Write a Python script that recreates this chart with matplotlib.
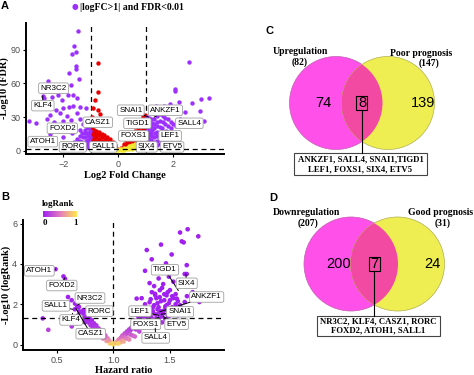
import matplotlib
matplotlib.use('Agg')
import matplotlib.pyplot as plt
from matplotlib.colors import LinearSegmentedColormap
from matplotlib.patches import Circle, Rectangle

# ---------------- data: panel A (volcano) ----------------
purple_x = [-1.48, -1.61, -1.54, -1.69, -1.56, -1.54, -1.78, -1.43, -2.57, -2.08, -1.93, -1.73,
            -2.64, -2.18, -1.82, -1.64, -2.75, -2.69, -2.42, -2.06, -1.50, -2.27, -2.00, -1.79,
            -1.64, -1.40, -1.19, -2.48, -2.14, -1.88, -1.52, -3.24, -3.01, -2.60, -2.33, -2.00,
            -1.73, -1.40, -1.27, -2.18, -1.88, -1.61, -2.48, -2.00, -1.70, -1.40, -1.16,
            -1.05, -1.04, -1.06, -1.05, -1.07, -1.04, -1.06, -1.12, -1.13, -1.11, -1.12, -1.14, -1.12,
            -1.20, -1.21, -1.19, -1.22, -1.20, -1.21, -1.30, -1.31, -1.29, -1.32, -1.40, -1.41, -1.39,
            -1.50, -1.52, -1.08, -1.09, -1.25, -1.35, -1.45, -1.60, -1.15,
            2.58, 2.04, 2.06, 3.01, 3.28, 2.67, 2.20, 1.88, 1.66, 1.36, 2.97, 2.43, 2.00, 3.12, 2.86, 2.37,
            1.03, 1.04, 1.03, 1.05, 1.03, 1.04, 1.03, 1.05, 1.04, 1.03,
            1.10, 1.11, 1.10, 1.12, 1.10, 1.11, 1.10, 1.12, 1.11, 1.10,
            1.20, 1.21, 1.19, 1.22, 1.20, 1.21, 1.19, 1.22, 1.20,
            1.30, 1.31, 1.29, 1.32, 1.30, 1.31, 1.29,
            1.40, 1.41, 1.39, 1.42, 1.40, 1.41, 1.39,
            1.50, 1.52, 1.49, 1.51, 1.50, 1.53,
            1.60, 1.62, 1.59, 1.61, 1.63,
            1.70, 1.72, 1.69, 1.71, 1.80, 1.82, 1.79, 1.90, 1.92, 2.00, 2.10, 2.25]
purple_y = [106.2, 93.7, 88.4, 86.1, 75.9, 73.0, 69.7, 63.8, 62.0, 57.9, 58.5, 58.5,
            54.3, 49.9, 49.9, 49.9, 49.0, 47.2, 48.3, 45.7, 47.1, 36.5, 38.0, 39.4,
            40.0, 39.4, 38.5, 32.0, 33.5, 31.4, 33.5, 27.0, 25.2, 28.8, 25.3, 26.5,
            27.3, 28.8, 24.3, 19.7, 21.2, 22.6, 14.7, 12.6, 15.8, 19.0, 21.2,
            3.0, 6.0, 9.0, 12.0, 15.0, 18.0, 22.0, 4.0, 7.0, 10.0, 13.0, 16.0, 20.0,
            3.0, 6.0, 9.0, 12.0, 16.0, 19.0, 4.0, 8.0, 12.0, 16.0, 5.0, 9.0, 13.0,
            6.0, 11.0, 25.0, 27.0, 2.5, 2.5, 3.0, 8.0, 24.0,
            79.5, 54.9, 53.0, 46.0, 47.4, 42.8, 43.3, 41.8, 39.7, 40.3, 35.3, 34.7, 36.2, 26.4, 27.2, 25.9,
            3.0, 6.0, 9.0, 12.0, 15.0, 18.0, 21.0, 24.0, 27.0, 30.0,
            3.0, 5.0, 8.0, 11.0, 14.0, 17.0, 20.0, 23.0, 26.0, 29.0,
            4.0, 7.0, 10.0, 13.0, 16.0, 19.0, 22.0, 25.0, 28.0,
            4.0, 8.0, 12.0, 16.0, 20.0, 24.0, 28.0,
            5.0, 9.0, 13.0, 17.0, 22.0, 26.0, 31.0,
            6.0, 11.0, 16.0, 21.0, 27.0, 33.0,
            8.0, 14.0, 20.0, 26.0, 31.0,
            10.0, 18.0, 24.0, 29.0, 15.0, 22.0, 28.0, 20.0, 26.0, 24.0, 22.0, 28.0]

red_x = [-0.76, -0.76, -0.85, -0.91, -0.75, -0.68, -0.95, -0.82,
         -0.98, -0.97, -0.98, -0.99, -0.97, -0.98, -0.97,
         -0.90, -0.91, -0.89, -0.90, -0.91, -0.89, -0.90,
         -0.80, -0.81, -0.79, -0.80, -0.81, -0.80,
         -0.70, -0.71, -0.69, -0.70, -0.71, -0.70,
         -0.60, -0.61, -0.59, -0.60, -0.61,
         -0.50, -0.51, -0.49, -0.50, -0.51,
         -0.40, -0.41, -0.39, -0.40,
         -0.30, -0.31, -0.29, -0.30,
         -0.20, -0.21, -0.19, -0.10, -0.11,
         0.10, 0.20, 0.21, 0.30, 0.31, 0.29, 0.40, 0.41, 0.39,
         0.50, 0.51, 0.49, 0.50, 0.60, 0.61, 0.59, 0.60, 0.61,
         0.70, 0.71, 0.69, 0.70, 0.71, 0.70,
         0.80, 0.81, 0.79, 0.80, 0.81, 0.80,
         0.90, 0.91, 0.89, 0.90, 0.91, 0.89, 0.90, 0.91,
         0.97, 0.96, 0.97, 0.98, 0.96, 0.97, 0.98, 0.97]
red_y = [78.0, 52.8, 45.0, 38.0, 36.5, 33.0, 30.0, 28.0,
         3.0, 6.0, 9.0, 12.0, 15.0, 18.0, 20.5,
         3.0, 5.0, 8.0, 11.0, 14.0, 17.0, 19.0,
         3.0, 6.0, 9.0, 12.0, 15.0, 18.0,
         3.0, 5.0, 8.0, 11.0, 14.0, 16.5,
         3.0, 6.0, 9.0, 12.0, 15.0,
         3.0, 5.0, 8.0, 11.0, 14.0,
         3.0, 6.0, 9.0, 12.0,
         3.0, 5.0, 8.0, 11.0,
         3.0, 5.0, 8.0, 3.0, 5.0,
         3.0, 4.0, 6.0, 6.0, 8.5, 10.0, 8.0, 10.0, 12.0,
         8.0, 11.0, 13.0, 15.0, 9.0, 12.0, 14.0, 16.0, 18.0,
         9.0, 11.0, 13.0, 15.0, 17.0, 20.0,
         10.0, 13.0, 15.0, 18.0, 21.0, 24.0,
         4.0, 7.0, 11.0, 15.0, 19.0, 23.0, 27.0, 31.0,
         4.0, 8.0, 12.0, 16.0, 20.0, 24.0, 28.0, 32.0]

yellow_x = [-0.10, -0.05, 0.00, 0.05, 0.10, 0.10, 0.15, 0.20, 0.20, 0.30, 0.30, 0.40, 0.40, 0.40,
            0.50, 0.50, 0.50, 0.60, 0.60, 0.60, 0.70, 0.70, 0.70, 0.80, 0.80]
yellow_y = [0.5, 0.8, 1.0, 1.5, 1.0, 2.0, 0.5, 1.0, 2.5, 1.5, 3.0, 1.5, 3.0, 4.5,
            2.0, 4.0, 5.5, 2.5, 4.5, 6.5, 3.0, 5.0, 7.0, 4.0, 6.5]

genes_a = ['NR3C2', 'KLF4', 'CASZ1', 'FOXD2', 'ATOH1', 'RORC', 'SALL1',
           'SNAI1', 'ANKZF1', 'TIGD1', 'SALL4', 'FOXS1', 'LEF1', 'SIX4', 'ETV5']
gene_a_fc = [-2.64, -2.75, -1.05, -2.18, -2.48, -1.20, -1.05, 1.10, 1.30, 1.10, 2.10, 1.10, 1.60, 1.20, 1.50]
gene_a_fdr = [54.3, 49.0, 22.0, 19.7, 12.0, 6.0, 3.0, 30.0, 30.0, 22.0, 26.0, 12.0, 17.0, 5.0, 6.0]

# ---------------- data: panel B (hazard ratio) ----------------
hr_x = [0.49, 0.56, 0.574, 0.60, 0.632, 0.662, 0.697, 0.735, 0.759, 0.377, 0.426, 0.633, 0.677,
        0.794, 0.824, 0.72, 0.70, 0.68, 0.75, 0.78, 0.71, 0.73, 0.69, 0.66, 0.76,
        0.74, 0.75, 0.76, 0.77, 0.78, 0.79, 0.80, 0.81, 0.82, 0.83, 0.84, 0.85, 0.86, 0.87, 0.88,
        0.89, 0.90, 0.91, 0.92, 0.93, 0.94, 0.95, 0.96, 0.97, 0.98, 0.99, 1.00, 1.01, 1.02,
        0.82, 0.85, 0.88, 0.91, 0.94, 0.97, 0.80, 0.84, 0.87, 0.90, 0.93, 0.96,
        1.03, 1.04, 1.05, 1.06, 1.07, 1.08, 1.09, 1.10, 1.11, 1.12, 1.13, 1.14, 1.15, 1.16, 1.17,
        1.18, 1.19, 1.20, 1.21, 1.22, 1.24, 1.26, 1.28, 1.30, 1.10, 1.15, 1.20, 1.25, 1.06, 1.13,
        1.08, 1.12, 1.17, 1.23, 1.27, 1.04, 1.09, 1.14, 1.19,
        1.18, 1.22, 1.26, 1.30, 1.33, 1.36, 1.40, 1.43, 1.46,
        1.22, 1.25, 1.27, 1.30, 1.30, 1.32, 1.33, 1.35, 1.36, 1.38, 1.38, 1.40, 1.40, 1.42, 1.43,
        1.45, 1.45, 1.47, 1.48, 1.50, 1.50, 1.52, 1.53, 1.55, 1.56, 1.58, 1.60, 1.62, 1.28, 1.25,
        1.34, 1.41, 1.36, 1.44, 1.50, 1.55, 1.58, 1.63, 1.65, 1.70,
        1.24, 1.26, 1.29, 1.31, 1.34, 1.37, 1.39, 1.41, 1.44, 1.46, 1.49, 1.51, 1.54, 1.57, 1.59,
        1.27, 1.32, 1.35, 1.39, 1.42, 1.46, 1.49, 1.53, 1.57, 1.33, 1.37, 1.41, 1.45, 1.48, 1.52,
        1.589, 1.656, 1.750, 1.604, 1.621, 1.421, 1.295, 1.515, 1.339, 1.465, 1.648, 1.28, 1.560,
        1.383, 1.648, 1.49, 1.40, 1.32, 1.53, 1.43, 1.60, 1.206, 1.368, 1.47, 1.56, 1.63, 1.76]
hr_y = [3.74, 3.38, 3.26, 2.36, 2.20, 2.03, 1.87, 1.71, 1.55, 1.30, 0.73, 0.90, 1.06,
        1.22, 0.98, 1.40, 1.65, 1.85, 1.10, 1.30, 1.55, 1.25, 1.45, 1.75, 1.65,
        1.55, 1.35, 1.20, 1.45, 1.10, 1.30, 1.00, 1.20, 0.90, 1.05, 0.80, 0.95, 0.70, 0.80, 0.60,
        0.70, 0.50, 0.60, 0.40, 0.45, 0.30, 0.30, 0.20, 0.15, 0.10, 0.05, 0.02, 0.05, 0.08,
        0.70, 0.55, 0.40, 0.30, 0.18, 0.06, 0.95, 0.80, 0.65, 0.50, 0.35, 0.22,
        0.12, 0.20, 0.25, 0.30, 0.35, 0.45, 0.40, 0.55, 0.50, 0.65, 0.60, 0.75, 0.70, 0.85, 0.80,
        0.95, 0.90, 1.05, 0.95, 1.10, 1.05, 1.20, 1.15, 1.25, 0.35, 0.50, 0.75, 0.90, 0.10, 0.30,
        0.20, 0.30, 0.45, 0.65, 0.85, 0.05, 0.15, 0.25, 0.40,
        1.20, 1.25, 0.95, 1.05, 1.15, 1.00, 1.20, 1.10, 1.25,
        1.40, 1.60, 1.35, 1.50, 1.80, 2.10, 1.40, 1.65, 1.95, 1.30, 2.30, 1.55, 1.85, 2.15, 1.40,
        1.70, 2.50, 1.95, 1.45, 1.65, 2.20, 1.85, 1.50, 2.00, 1.70, 1.55, 1.80, 1.65, 2.00, 2.30,
        2.60, 2.70, 2.90, 3.00, 2.70, 2.50, 3.20, 3.50, 2.40, 2.60,
        1.30, 1.45, 1.25, 1.65, 1.30, 1.50, 1.75, 1.35, 1.55, 1.85, 1.40, 1.60, 1.75, 1.45, 1.95,
        1.75, 1.55, 1.85, 2.05, 1.65, 1.90, 2.05, 2.30, 2.15, 2.25, 2.45, 2.35, 2.20, 2.60, 2.40,
        5.56, 5.72, 5.37, 5.12, 5.07, 4.96, 4.69, 4.47, 4.23, 4.03, 3.94, 3.66, 3.70,
        3.60, 3.50, 3.37, 3.28, 3.05, 3.12, 2.81, 2.97, 2.28, 2.52, 2.44, 2.28, 2.11, 2.11]

genes_b = ['ATOH1', 'FOXD2', 'NR3C2', 'SALL1', 'RORC', 'KLF4', 'CASZ1',
           'TIGD1', 'SIX4', 'ANKZF1', 'SNAI1', 'LEF1', 'FOXS1', 'ETV5', 'SALL4']
gene_b_hr = [0.49, 0.57, 0.68, 0.64, 0.74, 0.64, 0.67, 1.574, 1.64, 1.41, 1.42, 1.40, 1.40, 1.44, 1.37]
gene_b_logp = [3.74, 3.30, 1.95, 1.75, 1.80, 1.55, 1.79, 2.68, 3.50, 1.63, 1.50, 1.45, 1.35, 1.40, 0.81]

# ---------------- data: Venn panels ----------------
venn_c_sets = ['Upregulation', 'Poor prognosis']
venn_c_sizes = [82, 147]
venn_c_counts = [74, 8, 139]
venn_c_genes = ['ANKZF1, SALL4, SNAI1,TIGD1', 'LEF1, FOXS1, SIX4, ETV5']
venn_d_sets = ['Downregulation', 'Good prognosis']
venn_d_sizes = [207, 31]
venn_d_counts = [200, 7, 24]
venn_d_genes = ['NR3C2, KLF4, CASZ1, RORC', 'FOXD2, ATOH1, SALL1']

# ---------------- styles ----------------
PURPLE = '#9B30FF'
RED = '#E80000'
YELLOW = '#F2E830'
SERIF = 'Liberation Serif'
SANS = 'Liberation Sans'
W, H = 474, 375


def px_axes(fig, left, top, right, bottom):
    return fig.add_axes([left / W, 1 - bottom / H, (right - left) / W, (bottom - top) / H])


def classic(ax):
    for s in ['top', 'right']:
        ax.spines[s].set_visible(False)
    for s in ['left', 'bottom']:
        ax.spines[s].set_linewidth(1.4)
    ax.tick_params(labelsize=6.5, labelcolor='#4d4d4d', width=0.8, length=2.5, pad=1.5)
    for t in ax.get_xticklabels() + ax.get_yticklabels():
        t.set_fontfamily(SANS)


def gene_label(ax, text, xy, xytext):
    ax.annotate(text, xy=xy, xytext=xytext, textcoords='data', ha='center', va='center',
                fontsize=5.8, family=SANS, color='black',
                bbox=dict(boxstyle='round,pad=0.22', fc='white', ec='#a0a0a0', lw=0.6),
                arrowprops=dict(arrowstyle='-', color='black', lw=0.7, shrinkA=0, shrinkB=0))


fig = plt.figure(figsize=(W / 100, H / 100), dpi=100)

# ---------------- panel A ----------------
axA = px_axes(fig, 26, 22.7, 224, 154)
axA.scatter(red_x, red_y, s=10, color=RED, lw=0, zorder=2)
axA.scatter(purple_x, purple_y, s=10, color=PURPLE, lw=0, zorder=2)
axA.scatter(yellow_x, yellow_y, s=10, color=YELLOW, lw=0, zorder=3)
axA.axvline(-1, color='black', ls=(0, (4, 3)), lw=0.9, zorder=1)
axA.axvline(1, color='black', ls=(0, (4, 3)), lw=0.9, zorder=1)
axA.axhline(2, color='black', ls=(0, (4, 3)), lw=0.9, zorder=4)
axA.set_xlim(-3.36, 3.84)
axA.set_ylim(-2.7, 114)
axA.set_xticks([-2, 0, 2])
axA.set_yticks([0, 30, 60, 90])
classic(axA)
axA.set_xlabel('Log2 Fold Change', fontsize=7.5, family=SERIF, fontweight='bold', labelpad=2)
axA.set_ylabel('-Log10 (FDR)', fontsize=7.5, family=SERIF, fontweight='bold', labelpad=1)

label_pos_a = [(-2.36, 55.8), (-2.75, 40.3), (-0.75, 25.5), (-2.04, 20.2), (-2.75, 8.3),
               (-1.66, 3.6), (-0.55, 3.6), (0.45, 36.2), (1.71, 36.2), (0.69, 24.6),
               (2.58, 24.6), (0.55, 13.4), (1.88, 13.4), (1.03, 3.6), (1.95, 3.6)]
for g, x, y, pos in zip(genes_a, gene_a_fc, gene_a_fdr, label_pos_a):
    gene_label(axA, g, (x, y), pos)

# legend for A
fig.text(75 / W, 1 - 7 / H, '\u25CF', color=PURPLE, fontsize=5.5, ha='center', va='center', family='DejaVu Sans')
fig.text(80 / W, 1 - 7 / H, '|logFC>1| and FDR<0.01', fontsize=7, family=SERIF,
         fontweight='bold', ha='left', va='center')

# ---------------- panel B ----------------
cmap = LinearSegmentedColormap.from_list('lr', ['#A020F0', '#E27BC0', '#FFE84A'])
axB = px_axes(fig, 22.7, 220, 224, 350)
pvals = [10 ** (-v) for v in hr_y]
axB.scatter(hr_x, hr_y, s=11, c=pvals, cmap=cmap, vmin=0, vmax=1, lw=0, zorder=2)
axB.axvline(1, color='black', ls=(0, (4, 3)), lw=0.9, zorder=1)
axB.axhline(1.3, color='black', ls=(0, (4, 3)), lw=0.9, zorder=3)
axB.set_xlim(0.2, 1.977)
axB.set_ylim(-0.27, 6.18)
axB.set_xticks([0.5, 1.0, 1.5])
axB.set_yticks([0, 2, 4, 6])
classic(axB)
axB.set_xlabel('Hazard ratio', fontsize=7.5, family=SERIF, fontweight='bold', labelpad=1)
axB.set_ylabel('-Log10 (logRank)', fontsize=7.5, family=SERIF, fontweight='bold', labelpad=1)

label_pos_b = [(0.347, 3.66), (0.545, 2.93), (0.794, 2.31), (0.494, 1.92), (0.877, 1.66),
               (0.627, 1.22), (0.80, 0.54), (1.456, 3.71), (1.648, 3.04), (1.824, 2.36),
               (1.589, 1.63), (1.236, 1.66), (1.286, 1.01), (1.559, 1.01), (1.374, 0.33)]
for g, x, y, pos in zip(genes_b, gene_b_hr, gene_b_logp, label_pos_b):
    gene_label(axB, g, (x, y), pos)

# colorbar legend
cax = px_axes(fig, 43.3, 210.7, 76.7, 216.7)
cax.imshow([[i / 99 for i in range(100)]], cmap=cmap, aspect='auto', extent=[0, 1, 0, 1])
cax.set_xticks([])
cax.set_yticks([])
for s in cax.spines.values():
    s.set_visible(False)
fig.text(58 / W, 1 - 204 / H, 'logRank', fontsize=6.5, family=SERIF, fontweight='bold', ha='center', va='center')
fig.text(45 / W, 1 - 222.5 / H, '0', fontsize=6.5, family=SERIF, fontweight='bold', ha='center', va='center')
fig.text(76 / W, 1 - 222.5 / H, '1', fontsize=6.5, family=SERIF, fontweight='bold', ha='center', va='center')

# ---------------- Venn panels (pixel overlay) ----------------
ov = fig.add_axes([0, 0, 1, 1])
ov.set_xlim(0, W)
ov.set_ylim(H, 0)
ov.axis('off')

MAG = '#FF50EA'
YEL = '#EEEE52'
OVL = '#F24AA2'


def venn(cx1, cx2, cy, r, counts, genes, box, lines_y):
    c1 = Circle((cx1, cy), r, fc=MAG, ec='#c060b0', lw=0.5)
    c2 = Circle((cx2, cy), r, fc=YEL, ec='#b0b050', lw=0.5)
    ov.add_patch(c1)
    ov.add_patch(c2)
    c3 = Circle((cx2, cy), r, fc=OVL, ec='none')
    ov.add_patch(c3)
    c3.set_clip_path(Circle((cx1, cy), r, transform=ov.transData))
    mid = (cx1 + cx2) / 2
    ov.text(cx1 - r * 0.27, cy, str(counts[0]), fontsize=10.5, family=SANS, ha='center', va='center')
    ov.text(mid, cy, str(counts[1]), fontsize=10.5, family=SANS, ha='center', va='center')
    ov.text(cx2 + r * 0.75, cy, str(counts[2]), fontsize=10.5, family=SANS, ha='center', va='center')
    ov.add_patch(Rectangle((mid - 5.5, cy - 7), 11, 14, fc='none', ec='black', lw=0.8))
    ov.plot([mid, mid], [cy + 7, box[1]], color='black', lw=0.8)
    bx0, by0, bx1, by1 = box
    ov.add_patch(Rectangle((bx0, by0), bx1 - bx0, by1 - by0, fc='white', ec='#444444', lw=0.8))
    ov.text((bx0 + bx1) / 2, lines_y[0], genes[0], fontsize=6.3, family=SERIF, fontweight='bold',
            ha='center', va='center')
    ov.text((bx0 + bx1) / 2, lines_y[1], genes[1], fontsize=6.3, family=SERIF, fontweight='bold',
            ha='center', va='center')


# C
venn(336, 388, 103, 46.5, venn_c_counts, venn_c_genes, (294, 153, 427, 175), (159, 169.5))
ov.text(300, 52, venn_c_sets[0], fontsize=7, family=SERIF, fontweight='bold', ha='center', va='center')
ov.text(300, 62, '(%d)' % venn_c_sizes[0], fontsize=7, family=SERIF, fontweight='bold', ha='center', va='center')
ov.text(421, 53, venn_c_sets[1], fontsize=7, family=SERIF, fontweight='bold', ha='center', va='center')
ov.text(429, 63, '(%d)' % venn_c_sizes[1], fontsize=7, family=SERIF, fontweight='bold', ha='center', va='center')

# D
venn(351, 397.5, 264, 47, venn_d_counts, venn_d_genes, (317, 316, 440, 335.7), (321, 330.5))
ov.text(306.7, 212.7, venn_d_sets[0], fontsize=7, family=SERIF, fontweight='bold', ha='center', va='center')
ov.text(308, 222.7, '(%d)' % venn_d_sizes[0], fontsize=7, family=SERIF, fontweight='bold', ha='center', va='center')
ov.text(441, 212.7, venn_d_sets[1], fontsize=7, family=SERIF, fontweight='bold', ha='center', va='center')
ov.text(443, 223, '(%d)' % venn_d_sizes[1], fontsize=7, family=SERIF, fontweight='bold', ha='center', va='center')

# panel letters
for letter, x, y in [('A', 5, 6), ('B', 5, 197), ('C', 270, 31), ('D', 273, 198)]:
    ov.text(x, y, letter, fontsize=8, family=SANS, fontweight='bold', ha='center', va='center')

fig.savefig('out.png', dpi=100)
